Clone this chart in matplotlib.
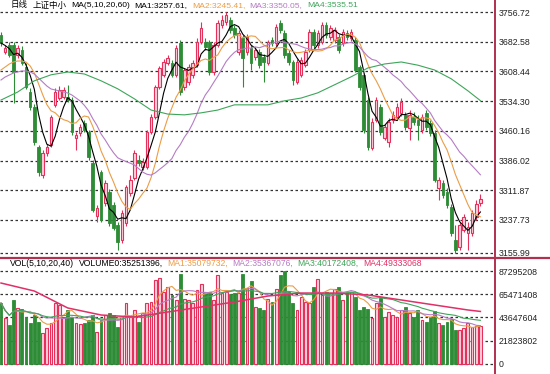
import numpy as np
import pandas as pd
import matplotlib
matplotlib.use("Agg")
import matplotlib.pyplot as plt
from matplotlib.lines import Line2D

plt.rcParams['font.family'] = ['Liberation Sans', 'Noto Sans CJK SC']

# 日K线: 开盘, 收盘, 最高, 最低
opens = [3699.3, 3656.9, 3674.4, 3674.4, 3649.4, 3661.9, 3619.5, 3557.1, 3519.6, 3419.8,
         3349.8, 3404.8, 3424.8, 3524.6, 3542.1, 3544.6, 3544.6, 3537.1, 3442.2, 3454.7,
         3479.7, 3457.2, 3379.8, 3247.5, 3357.3, 3280.0, 3307.4, 3275.0, 3225.1, 3187.7,
         3230.1, 3304.9, 3342.3, 3387.3, 3369.8, 3369.8, 3457.2, 3494.7, 3569.5, 3599.5,
         3629.5, 3629.5, 3599.5, 3679.4, 3569.5, 3582.0, 3599.5, 3624.5, 3681.9, 3681.9,
         3681.9, 3607.0, 3674.4, 3724.3, 3731.8, 3736.8, 3716.8, 3656.9, 3691.8, 3656.9,
         3666.9, 3644.4, 3656.9, 3644.4, 3629.5, 3686.9, 3679.4, 3729.3, 3704.3, 3654.4,
         3631.9, 3582.0, 3599.5, 3624.5, 3661.9, 3706.8, 3674.4, 3681.9, 3724.3, 3694.3,
         3686.9, 3694.3, 3679.4, 3704.3, 3691.8, 3686.9, 3619.5, 3599.5, 3537.1, 3417.3,
         3487.2, 3519.6, 3442.2, 3432.3, 3487.2, 3494.7, 3504.6, 3499.7, 3467.2, 3494.7,
         3487.2, 3462.2, 3504.6, 3479.7, 3454.7, 3317.4, 3329.9, 3307.4, 3270.0, 3187.7,
         3170.2, 3212.6, 3205.1, 3205.1, 3245.0, 3280.0]
closes = [3679.4, 3666.9, 3649.4, 3607.0, 3666.9, 3629.5, 3569.5, 3519.6, 3432.3, 3357.3,
          3404.8, 3419.8, 3494.7, 3557.1, 3562.1, 3562.1, 3537.1, 3457.2, 3449.7, 3469.7,
          3462.2, 3394.8, 3262.5, 3267.5, 3237.6, 3329.9, 3230.1, 3217.6, 3182.7, 3255.0,
          3319.9, 3337.4, 3404.8, 3379.8, 3382.3, 3457.2, 3494.7, 3569.5, 3617.0, 3631.9,
          3641.9, 3599.5, 3666.9, 3557.1, 3612.0, 3619.5, 3629.5, 3681.9, 3716.8, 3669.4,
          3607.0, 3674.4, 3729.3, 3736.8, 3749.3, 3711.8, 3699.3, 3704.3, 3641.9, 3694.3,
          3629.5, 3661.9, 3624.5, 3631.9, 3681.9, 3679.4, 3719.3, 3711.8, 3649.4, 3631.9,
          3587.0, 3631.9, 3636.9, 3656.9, 3706.8, 3674.4, 3704.3, 3724.3, 3699.3, 3716.8,
          3711.8, 3661.9, 3706.8, 3694.3, 3706.8, 3612.0, 3569.5, 3462.2, 3419.8, 3482.2,
          3537.1, 3457.2, 3469.7, 3482.2, 3499.7, 3519.6, 3532.1, 3469.7, 3499.7, 3482.2,
          3474.7, 3494.7, 3469.7, 3454.7, 3337.4, 3337.4, 3299.9, 3275.0, 3205.1, 3162.7,
          3225.1, 3245.0, 3220.1, 3255.0, 3278.0, 3290.0]
highs = [3706.8, 3674.4, 3681.9, 3681.9, 3674.4, 3671.9, 3629.5, 3567.1, 3527.1, 3424.8,
         3412.3, 3427.3, 3499.7, 3567.1, 3572.0, 3569.5, 3574.5, 3544.6, 3457.2, 3477.2,
         3487.2, 3462.2, 3387.3, 3275.0, 3362.3, 3337.4, 3314.9, 3282.5, 3232.6, 3262.5,
         3324.9, 3349.8, 3412.3, 3399.8, 3392.3, 3462.2, 3502.2, 3574.5, 3622.0, 3639.4,
         3649.4, 3636.9, 3674.4, 3686.9, 3617.0, 3627.0, 3636.9, 3691.8, 3731.8, 3691.8,
         3686.9, 3681.9, 3736.8, 3749.3, 3756.7, 3744.3, 3724.3, 3711.8, 3699.3, 3701.8,
         3674.4, 3669.4, 3664.4, 3651.9, 3686.9, 3694.3, 3726.8, 3736.8, 3711.8, 3661.9,
         3636.9, 3639.4, 3644.4, 3664.4, 3714.3, 3714.3, 3711.8, 3731.8, 3731.8, 3724.3,
         3719.3, 3701.8, 3714.3, 3711.8, 3714.3, 3694.3, 3624.5, 3604.5, 3544.6, 3492.2,
         3544.6, 3527.1, 3477.2, 3492.2, 3509.6, 3529.6, 3542.1, 3507.1, 3512.1, 3507.1,
         3499.7, 3502.2, 3512.1, 3487.2, 3462.2, 3344.8, 3337.4, 3317.4, 3277.5, 3225.1,
         3232.6, 3252.5, 3232.6, 3262.5, 3287.5, 3302.4]
lows = [3671.9, 3651.9, 3644.4, 3529.6, 3641.9, 3624.5, 3564.6, 3512.1, 3424.8, 3347.3,
        3342.3, 3397.3, 3419.8, 3519.6, 3537.1, 3539.6, 3532.1, 3449.7, 3412.3, 3447.2,
        3457.2, 3387.3, 3257.5, 3232.6, 3232.6, 3272.5, 3222.6, 3212.6, 3162.7, 3180.2,
        3222.6, 3297.5, 3337.4, 3372.3, 3362.3, 3364.8, 3452.2, 3489.7, 3564.6, 3594.5,
        3624.5, 3594.5, 3594.5, 3549.6, 3562.1, 3574.5, 3592.0, 3619.5, 3676.9, 3661.9,
        3599.5, 3599.5, 3669.4, 3716.8, 3724.3, 3704.3, 3691.8, 3649.4, 3569.5, 3649.4,
        3612.0, 3636.9, 3617.0, 3582.0, 3624.5, 3671.9, 3671.9, 3704.3, 3641.9, 3624.5,
        3574.5, 3577.0, 3594.5, 3619.5, 3656.9, 3666.9, 3666.9, 3676.9, 3691.8, 3686.9,
        3679.4, 3654.4, 3671.9, 3686.9, 3684.4, 3607.0, 3562.1, 3454.7, 3412.3, 3412.3,
        3482.2, 3449.7, 3437.3, 3419.8, 3479.7, 3487.2, 3497.2, 3462.2, 3437.3, 3474.7,
        3437.3, 3454.7, 3462.2, 3447.2, 3332.4, 3287.5, 3292.5, 3267.5, 3197.6, 3156.0,
        3162.7, 3207.6, 3162.7, 3197.6, 3237.6, 3272.5]

# 成交量 (百万)
volumes_m = [57.3, 43.2, 36.6, 60.1, 52.6, 51.6, 44.1, 38.5, 46.0, 39.4,
             29.1, 33.8, 38.5, 57.3, 55.4, 44.1, 50.7, 44.1, 38.9, 37.8,
             38.3, 41.3, 46.0, 30.0, 41.3, 46.0, 47.9, 46.0, 34.7, 44.1,
             57.3, 44.1, 50.7, 39.4, 47.9, 57.3, 58.2, 78.9, 80.7, 67.6,
             72.3, 64.8, 60.1, 84.5, 61.0, 60.1, 57.3, 69.5, 75.1, 67.6,
             67.6, 60.1, 83.5, 66.2, 67.6, 65.8, 67.1, 66.4, 84.5, 71.3,
             77.9, 53.5, 52.6, 50.7, 61.0, 58.2, 70.4, 83.5, 87.295208, 67.6,
             57.3, 50.7, 62.9, 58.2, 57.3, 72.3, 79.8, 64.8, 67.6, 66.6,
             70.4, 72.3, 60.1, 67.6, 67.6, 62.9, 50.7, 53.5, 51.6, 43.2,
             57.3, 62.0, 44.1, 48.8, 46.0, 44.1, 50.7, 53.5, 47.9, 44.1,
             50.7, 41.3, 39.4, 44.1, 49.8, 38.5, 36.6, 39.4, 42.2, 31.9,
             31.9, 33.8, 38.5, 34.7, 35.7, 35.251396]

# 均线起始段 (窗口之前的数据不可见, 从图上读取)
ma10_head = [3612.0, 3619.5, 3627.0, 3631.9, 3634.4, 3634.4, 3631.9, 3622.0, 3604.5]
ma20_head = [3587.0, 3594.5, 3599.5, 3604.5, 3607.0, 3609.5, 3609.5, 3607.0, 3602.0, 3592.0,
             3582.0, 3572.0, 3564.6, 3562.1, 3559.6, 3557.1, 3554.6, 3549.6, 3542.1]
ma60_vals = [3537, 3557, 3585, 3600, 3607, 3602, 3585, 3565, 3540, 3512,
             3502, 3500, 3505, 3512, 3525, 3525, 3525, 3535, 3542, 3555,
             3575, 3595, 3617, 3627, 3632, 3624, 3612, 3590, 3560, 3535.51]
vol_ma40_m = [76.0, 68.5, 52.6, 46.0, 44.1, 48.8, 53.5, 58.2, 63.8, 66.6,
              66.6, 64.8, 60.1, 55.4, 50.7, 49.33]

price_ticks = [3155.99, 3237.73, 3311.87, 3386.02, 3460.16, 3534.30, 3608.44, 3682.58, 3756.72]
vol_ticks = [0, 21823802, 43647604, 65471408, 87295208]

UP_EDGE = '#e5305c'
UP_FACE = '#fbd3dd'
DOWN = '#2f8c36'
FRAME = '#b03050'
C_MA2 = '#eb9d45'
C_MA3 = '#b57cc4'
C_MA4 = '#3ea55a'
C_VMA4 = '#e03068'

o = np.array(opens)
c = np.array(closes)
h = np.array(highs)
l = np.array(lows)
vol = np.array(volumes_m) * 1e6
n = len(c)
x = np.arange(n)
up = c >= o

cs = pd.Series(c)
ma5 = cs.rolling(5, min_periods=1).mean().values
ma10 = cs.rolling(10).mean().values
ma10[:9] = ma10_head
ma20 = cs.rolling(20).mean().values
ma20[:19] = ma20_head
ma60_idx = list(range(0, n - 3, 4)) + [n - 1]
vma_idx = list(range(0, n - 3, 8)) + [n - 1]

vs = pd.Series(vol)
vma5 = vs.rolling(5, min_periods=1).mean().values
vma10 = vs.rolling(10, min_periods=1).mean().values
vma20 = vs.rolling(20, min_periods=1).mean().values

W, H = 550, 374
fig = plt.figure(figsize=(W / 100, H / 100), dpi=100)
fig.patch.set_facecolor('white')
ax1 = fig.add_axes([0, 116 / H, 495 / W, 258 / H])
ax2 = fig.add_axes([0, 0, 495 / W, 116 / H])

grid_style = dict(color='#333333', lw=0.9, ls=(0, (2, 2)))

# --- 价格 ---
ax1.vlines(x[up], l[up], h[up], color=UP_EDGE, lw=0.8, zorder=2)
ax1.vlines(x[~up], l[~up], h[~up], color=DOWN, lw=0.8, zorder=2)
body_lo = np.minimum(o, c)
body_h = np.maximum(np.abs(c - o), 1.5)
ax1.bar(x[up], body_h[up], bottom=body_lo[up], width=0.62,
        facecolor=UP_FACE, edgecolor=UP_EDGE, lw=0.8, zorder=3)
ax1.bar(x[~up], body_h[~up], bottom=body_lo[~up], width=0.62,
        facecolor=DOWN, edgecolor=DOWN, lw=0.6, zorder=3)

ax1.plot(x, ma5, color='black', lw=0.8, zorder=4)
ax1.plot(x, ma10, color=C_MA2, lw=0.8, zorder=4)
ax1.plot(x, ma20, color=C_MA3, lw=0.8, zorder=4)
ax1.plot(ma60_idx, ma60_vals, color=C_MA4, lw=0.8, zorder=4)

ax1.set_xlim(-0.24, 118.5)
ax1.set_ylim(3142.7, 3786.7)
ax1.set_yticks(price_ticks)
ax1.set_yticklabels(['%.2f' % t for t in price_ticks])
for t in price_ticks:
    ax1.axhline(t, zorder=1, **grid_style)

# --- 成交量 ---
ax2.bar(x[up], vol[up], width=0.68, facecolor=UP_FACE, edgecolor=UP_EDGE, lw=0.8, zorder=3)
ax2.bar(x[~up], vol[~up], width=0.68, facecolor=DOWN, edgecolor=DOWN, lw=0.6, zorder=3)
ax2.plot(x, vma5, color=C_MA2, lw=0.8, zorder=4)
ax2.plot(x, vma10, color=C_MA3, lw=0.8, zorder=4)
ax2.plot(x, vma20, color=C_MA4, lw=0.8, zorder=4)
ax2.plot(vma_idx, np.array(vol_ma40_m) * 1e6, color=C_VMA4, lw=1.1, zorder=4)
ax2.set_xlim(-0.24, 118.5)
ax2.set_ylim(-9.39e6, 99.5e6)
ax2.set_yticks(vol_ticks)
ax2.set_yticklabels([str(t) for t in vol_ticks])
for t in vol_ticks:
    ax2.axhline(t, zorder=1, **grid_style)

for ax in (ax1, ax2):
    ax.set_facecolor('white')
    for s in ax.spines.values():
        s.set_visible(False)
    ax.set_xticks([])
    ax.yaxis.tick_right()
    ax.tick_params(axis='y', length=0, pad=2.5, labelsize=6.3, labelcolor='#222222')

# 边框线
fig.add_artist(Line2D([0, 1], [116 / H, 116 / H], transform=fig.transFigure, color=FRAME, lw=1.6))
fig.add_artist(Line2D([495 / W, 495 / W], [0, 1], transform=fig.transFigure, color=FRAME, lw=1.4))


def put_row(x0, y0, parts, size=6.0, gap=3):
    r = fig.canvas.get_renderer()
    xp = x0
    for s, col in parts:
        t = fig.text(xp / W, 1 - y0 / H, s, color=col, fontsize=size, va='center', ha='left')
        xp += t.get_window_extent(renderer=r).width + gap


put_row(11, 5.5, [("日线", 'black'),
                  ("上证中小", 'black'),
                  ("MA(5,10,20,60)", 'black'),
                  ("MA1:3257.61,", 'black'),
                  ("MA2:3245.41,", C_MA2),
                  ("MA3:3350.05,", C_MA3),
                  ("MA4:3535.51", C_MA4)], size=6.1, gap=4.5)
put_row(10, 263.5, [("VOL(5,10,20,40)", 'black'),
                    ("VOLUME0:35251396,", 'black'),
                    ("MA1:35079732,", C_MA2),
                    ("MA2:35367076,", C_MA3),
                    ("MA3:40172408,", C_MA4),
                    ("MA4:49333068", C_VMA4)], size=6.2, gap=4.5)

fig.savefig('out.png', dpi=100)
